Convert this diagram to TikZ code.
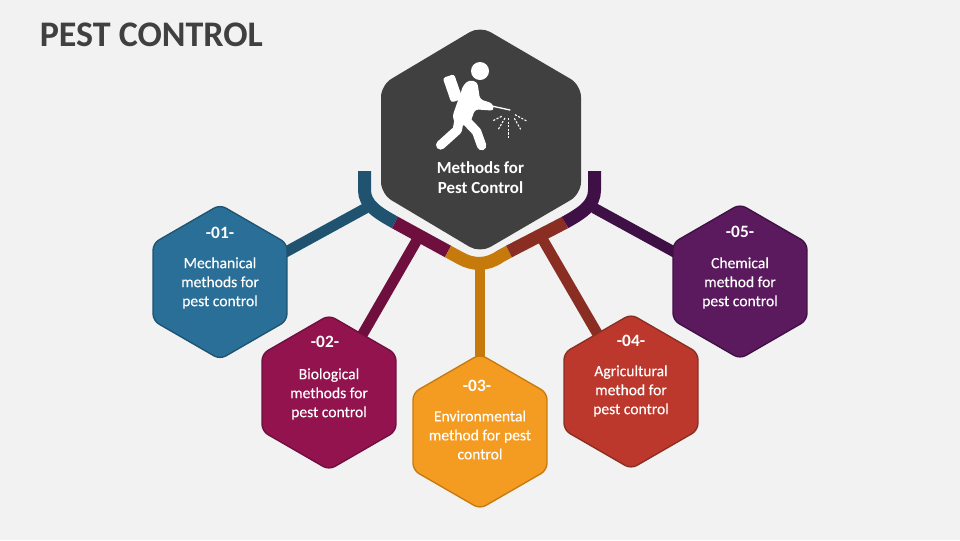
\documentclass[tikz,border=0pt]{standalone}
\usepackage{fontspec}
\setmainfont{Carlito}
\newfontfamily\heavyfont[FakeBold=0.25]{Carlito}
\usetikzlibrary{shapes.geometric,calc}
\definecolor{bgc}{HTML}{F2F2F2}
\definecolor{darkc}{HTML}{404040}
\definecolor{bluef}{HTML}{2A6F97}\definecolor{blued}{HTML}{1F5370}
\definecolor{marf}{HTML}{93134F}\definecolor{mard}{HTML}{6E0F3E}
\definecolor{oraf}{HTML}{F49C22}\definecolor{orad}{HTML}{C67A0C}
\definecolor{redf}{HTML}{BC382D}\definecolor{redd}{HTML}{8A2D22}
\definecolor{purf}{HTML}{5C1A5E}\definecolor{purd}{HTML}{3F1045}
\tikzset{
  x=0.75pt,y=-0.75pt,
  hexa/.style={regular polygon,regular polygon sides=6,shape border rotate=30,minimum size=116pt,inner sep=0pt,rounded corners=5pt,line width=1pt},
  band/.style={line width=9.75pt,line cap=butt},
  spur/.style={line width=8pt,line cap=butt},
  numtxt/.style={text=white,font=\fontsize{13}{15}\selectfont\bfseries,inner sep=0pt},
  bodytxt/.style={text=white,align=center,font=\heavyfont\fontsize{11.7}{14.25}\selectfont,inner sep=0pt},
  person/.style={white,line cap=round,line join=round},
  sprayline/.style={white,line width=0.8pt,dash pattern=on 1.6pt off 1.1pt}
}
\begin{document}
\begin{tikzpicture}
\useasboundingbox[fill=bgc] (0,0) rectangle (960,540);
\node[anchor=west,text=darkc,inner sep=0pt,font=\fontsize{27}{32}\selectfont\bfseries] (title) at (39.5,34.5) {PEST CONTROL};
% junction coordinates
\coordinate (j1) at (366,208);
\coordinate (j2) at (417,240);
\coordinate (j3) at (480,262);
\coordinate (j4) at (543,240);
\coordinate (j5) at (594,208);
% spurs
\coordinate (a1) at (220,288);
\coordinate (a2) at (329,392.5);
\coordinate (a3) at (480,431.5);
\coordinate (a4) at (631,391.5);
\coordinate (a5) at (740,288);
\draw[spur,blued] (j1) -- (a1);
\draw[spur,mard] (j2) -- (a2);
\draw[spur,orad] (j3) -- (a3);
\draw[spur,redd] (j4) -- (a4);
\draw[spur,purd] (j5) -- (a5);
% hexagons
\node[hexa,draw=blued,fill=bluef] (h1) at (220,282) {};
\node[hexa,draw=mard,fill=marf] (h2) at (329,392.5) {};
\node[hexa,draw=orad,fill=oraf] (h3) at (480,431.5) {};
\node[hexa,draw=redd,fill=redf] (h4) at (631,391.5) {};
\node[hexa,draw=purd,fill=purf] (h5) at (740,281.5) {};
% bands
\draw[band,blued] (364.5,171) -- (364.5,190) .. controls (364.5,205) and (378,213) .. (395,222.5);
\draw[band,mard] (395,222.5) -- (448,251.5);
\draw[band,orad] (448,251.5) -- (460,258) .. controls (473,265.5) and (487,265.5) .. (500,256.5) -- (509,251.5);
\draw[band,redd] (509,251.5) -- (565,222.5);
\draw[band,purd] (565,222.5) .. controls (582,213) and (594.5,205) .. (594.5,190) -- (594.5,171);
% centre hexagon
\draw[fill=darkc,draw=none,rounded corners=9pt] (480,26) -- (581,85) -- (581,194) -- (480,253) -- (381,194) -- (381,85) -- cycle;
% person
\begin{scope}[shift={(420,50)},x=0.25pt,y=-0.25pt]
\fill[person] (180,63) circle (27);
\fill[white,rotate around={19:(98,115)},rounded corners=2pt] (80,76) rectangle (116,154);
\fill[white,rounded corners=2.5pt] (130,105) -- (148,90) -- (172,96) -- (180,148) -- (218,160) -- (222,182) -- (165,178) -- (152,215) -- (112,235) -- (97,200) -- cycle;
\draw[person,line width=1pt] (215,168) -- (270,180);
\draw[person,line width=7pt] (118,205) -- (112,240) -- (62,285);
\draw[person,line width=7pt] (132,205) -- (170,245) -- (185,287);
\draw[sprayline] (245,199) -- (217,213);
\draw[sprayline] (255,204) -- (235,238);
\draw[sprayline] (265,204) -- (265,266);
\draw[sprayline] (283,205) -- (302,238);
\draw[sprayline] (285,194) -- (320,213);
\end{scope}
% text
\node[text=white,align=center,inner sep=0pt,font=\fontsize{12.7}{15}\selectfont\bfseries] (ct) at (480.5,177.5) {Methods for\\Pest Control};
\node[numtxt] (n1) at ($(h1)+(0,-49)$) {-01-};
\node[bodytxt] (t1) at ($(h1)+(0,1)$) {Mechanical\\methods for\\pest control};
\node[numtxt] (n2) at ($(h2)+(-4,-51)$) {-02-};
\node[bodytxt] (t2) at ($(h2)+(0,1.5)$) {Biological\\methods for\\pest control};
\node[numtxt] (n3) at ($(h3)+(-3,-45.5)$) {-03-};
\node[bodytxt] (t3) at ($(h3)+(0,3.5)$) {Environmental\\method for pest\\control};
\node[numtxt] (n4) at ($(h4)+(0,-50.5)$) {-04-};
\node[bodytxt] (t4) at ($(h4)+(0,-0.5)$) {Agricultural\\method for\\pest control};
\node[numtxt] (n5) at ($(h5)+(0,-49.5)$) {-05-};
\node[bodytxt] (t5) at ($(h5)+(0,1.5)$) {Chemical\\method for\\pest control};
\end{tikzpicture}
\end{document}
